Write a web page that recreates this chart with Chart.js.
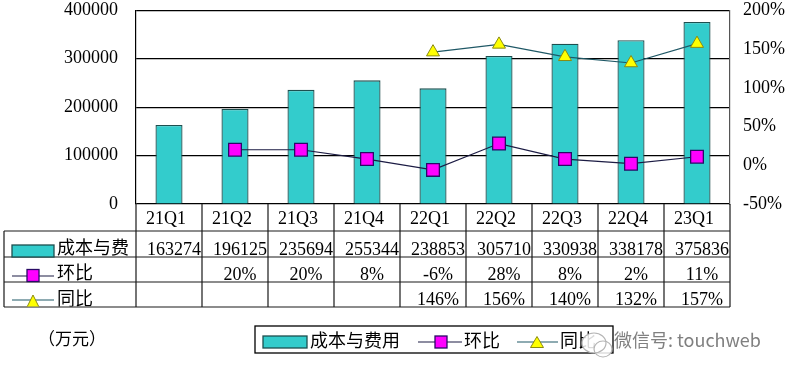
<!DOCTYPE html>
<html><head><meta charset="utf-8">
<script src="https://cdn.jsdelivr.net/npm/chart.js@4/dist/chart.umd.min.js"></script>
<style>html,body{margin:0;padding:0;background:#fff;} #wrap{width:800px;height:381px;position:relative;}</style>
</head><body><div id="wrap"><canvas id="c" width="800" height="381"></canvas></div>
<script>
// ---- data ----
const categories = ['21Q1','21Q2','21Q3','21Q4','22Q1','22Q2','22Q3','22Q4','23Q1'];
const costs = [163274,196125,235694,255344,238853,305710,330938,338178,375836];
const qoq = [null,20,20,8,-6,28,8,2,11];
const yoy = [null,null,null,null,146,156,140,132,157];
const seriesNames = ['成本与费用','环比','同比'];
const rowLabels = ['成本与费','环比','同比'];
const unitLabel = '（万元）';
const watermark = '微信号: touchweb';

// ---- style ----
const BAR_FILL = '#33CCCC', BAR_EDGE = '#1d4f4f';
const SQ_FILL = '#FF00FF', SQ_EDGE = '#2a0a66', QOQ_LINE = '#1c1c44';
const TRI_FILL = '#FFFF00', TRI_EDGE = '#8a8a10', YOY_LINE = '#1f5866';
const NUM_FONT = '18px "Liberation Serif"';
const CJK_FONT = '18px "Noto Sans CJK SC"';

function pct(v){ return v === null ? '' : v + '%'; }

function drawSquare(ctx, cx, cy, s){
  ctx.fillStyle = SQ_FILL; ctx.strokeStyle = SQ_EDGE; ctx.lineWidth = 1.3;
  ctx.fillRect(cx - s/2, cy - s/2, s, s); ctx.strokeRect(cx - s/2, cy - s/2, s, s);
}
function drawTri(ctx, cx, cy, w, h){
  ctx.beginPath(); ctx.moveTo(cx, cy - h/2); ctx.lineTo(cx + w/2, cy + h/2); ctx.lineTo(cx - w/2, cy + h/2); ctx.closePath();
  ctx.fillStyle = TRI_FILL; ctx.fill(); ctx.strokeStyle = TRI_EDGE; ctx.lineWidth = 1; ctx.stroke();
}
function drawSwatchRect(ctx, x, y, w, h){
  ctx.fillStyle = BAR_FILL; ctx.fillRect(x, y, w, h);
  ctx.strokeStyle = BAR_EDGE; ctx.lineWidth = 1.3; ctx.strokeRect(x, y, w, h);
}
function hLine(ctx, x1, x2, y, color){
  ctx.beginPath(); ctx.moveTo(x1, y); ctx.lineTo(x2, y); ctx.strokeStyle = color; ctx.lineWidth = 1.2; ctx.stroke();
}

const tablePlugin = {
  id: 'dataTable',
  afterDraw(chart){
    const ctx = chart.ctx, xs = chart.scales.x, area = chart.chartArea;
    const n = categories.length;
    const cw = (area.right - area.left) / n;
    const rows = [area.bottom, area.bottom + 27, area.bottom + 53, area.bottom + 78, area.bottom + 103];
    const tLeft = 4;
    ctx.save();
    ctx.strokeStyle = '#1a1a1a'; ctx.lineWidth = 1.2;
    ctx.beginPath();
    for (let r = 1; r < rows.length; r++){ ctx.moveTo(tLeft, rows[r]); ctx.lineTo(area.right, rows[r]); }
    ctx.moveTo(tLeft, rows[1]); ctx.lineTo(tLeft, rows[4]);
    for (let i = 0; i <= n; i++){
      const bx = (i < n ? xs.getPixelForValue(i) - cw/2 : xs.getPixelForValue(n-1) + cw/2);
      ctx.moveTo(bx, rows[0]); ctx.lineTo(bx, rows[4]);
    }
    ctx.stroke();

    // cell text
    ctx.fillStyle = '#000'; ctx.textAlign = 'center'; ctx.textBaseline = 'alphabetic';
    ctx.font = NUM_FONT;
    for (let i = 0; i < n; i++){
      const cx = xs.getPixelForValue(i);
      ctx.fillText(categories[i], cx - 3, rows[0] + 20);
      ctx.fillText(String(costs[i]), cx + 5, rows[1] + 24);
      ctx.fillText(pct(qoq[i]), cx + 5, rows[2] + 23);
      ctx.fillText(pct(yoy[i]), cx + 5, rows[3] + 23);
    }

    // row header swatches + labels
    drawSwatchRect(ctx, 12, rows[1] + 14, 42, 12);
    hLine(ctx, 12, 54, rows[2] + 19, QOQ_LINE);
    drawSquare(ctx, 33, rows[2] + 18.5, 12);
    hLine(ctx, 12, 54, rows[3] + 18, YOY_LINE);
    ctx.save();
    ctx.beginPath(); ctx.rect(tLeft, rows[3], 132, rows[4] - rows[3] - 0.6); ctx.clip();
    drawTri(ctx, 33, rows[3] + 19, 12, 12);
    ctx.restore();

    ctx.fillStyle = '#000'; ctx.textAlign = 'left'; ctx.font = CJK_FONT;
    ctx.fillText(rowLabels[0], 57, rows[1] + 23);
    ctx.fillText(rowLabels[1], 57, rows[2] + 22);
    ctx.save();
    ctx.beginPath(); ctx.rect(tLeft, rows[3], 132, rows[4] - rows[3] - 0.6); ctx.clip();
    ctx.fillStyle = '#000';
    ctx.fillText(rowLabels[2], 57, rows[3] + 23);
    ctx.restore();

    // unit label
    ctx.font = '17px "Noto Sans CJK SC"'; ctx.fillStyle = '#000';
    ctx.fillText(unitLabel, 38, 345);

    // legend box
    const lx = 255, ly = 326, lw = 358, lh = 27;
    ctx.strokeStyle = '#000'; ctx.lineWidth = 1.3; ctx.strokeRect(lx, ly, lw, lh);
    drawSwatchRect(ctx, 263, 336, 44, 12);
    ctx.fillStyle = '#000'; ctx.font = CJK_FONT; ctx.textAlign = 'left';
    ctx.fillText(seriesNames[0], 310, 347);
    hLine(ctx, 418, 462, 342, QOQ_LINE);
    drawSquare(ctx, 441, 342, 12);
    ctx.fillStyle = '#000'; ctx.font = CJK_FONT;
    ctx.fillText(seriesNames[1], 464, 347);
    hLine(ctx, 517, 558, 342, YOY_LINE);
    drawTri(ctx, 537, 342, 13, 11);
    ctx.fillStyle = '#000'; ctx.font = CJK_FONT;
    ctx.fillText(seriesNames[2], 560, 347);

    // watermark (WeChat style)
    ctx.globalAlpha = 0.85;
    ctx.fillStyle = '#fff';
    ctx.beginPath(); ctx.ellipse(594, 343, 12, 10, 0, 0, Math.PI*2); ctx.fill();
    ctx.beginPath(); ctx.ellipse(603, 349, 9, 8, 0, 0, Math.PI*2); ctx.fill();
    ctx.globalAlpha = 1;
    ctx.strokeStyle = '#b5b5b5'; ctx.lineWidth = 1.2;
    ctx.beginPath(); ctx.ellipse(594, 343, 12, 10, 0, 0, Math.PI*2); ctx.stroke();
    ctx.beginPath(); ctx.ellipse(603, 349, 9, 8, 0, 0, Math.PI*2); ctx.stroke();
    ctx.fillStyle = '#808080'; ctx.font = '18px "Noto Sans CJK SC"';
    ctx.fillText(watermark, 614, 347);
    ctx.restore();
  }
};

new Chart(document.getElementById('c'), {
  data: {
    labels: categories,
    datasets: [
      { type: 'line', label: seriesNames[2], data: yoy, yAxisID: 'y1', order: 1,
        borderColor: YOY_LINE, borderWidth: 1.2, tension: 0,
        pointStyle: 'triangle', pointRadius: 7.5, pointBackgroundColor: TRI_FILL,
        pointBorderColor: TRI_EDGE, pointBorderWidth: 1 },
      { type: 'line', label: seriesNames[1], data: qoq, yAxisID: 'y1', order: 2,
        borderColor: QOQ_LINE, borderWidth: 1.2, tension: 0,
        pointStyle: 'rect', pointRadius: 9, pointBackgroundColor: SQ_FILL,
        pointBorderColor: SQ_EDGE, pointBorderWidth: 1.3 },
      { type: 'bar', label: seriesNames[0], data: costs, yAxisID: 'y', order: 3,
        backgroundColor: BAR_FILL, borderColor: BAR_EDGE, borderWidth: 1.3,
        categoryPercentage: 1, barPercentage: 0.41 }
    ]
  },
  options: {
    responsive: false, animation: false, devicePixelRatio: 1,
    layout: { padding: { top: 10, left: 0, right: 0, bottom: 0 } },
    plugins: { legend: { display: false }, tooltip: { enabled: false } },
    scales: {
      x: { type: 'category', offset: true,
        grid: { display: false, drawTicks: false }, border: { display: false },
        ticks: { display: false },
        afterFit(s){ s.height = 177; s.paddingLeft = 0; s.paddingRight = 0; } },
      y: { position: 'left', min: 0, max: 400000,
        ticks: { stepSize: 100000, padding: 18, color: '#000', font: { family: 'Liberation Serif', size: 18 },
          callback: v => String(v) },
        grid: { color: '#000', lineWidth: 1.2, drawTicks: false },
        border: { display: true, color: '#000', width: 1.2 },
        afterFit(s){ s.width = 136; s.paddingTop = 0; s.paddingBottom = 0; } },
      y1: { position: 'right', min: -50, max: 200,
        ticks: { stepSize: 50, padding: 13, color: '#000', font: { family: 'Liberation Serif', size: 18 },
          callback: v => v + '%' },
        grid: { display: false, drawTicks: false },
        border: { display: true, color: '#555', width: 1.2 },
        afterFit(s){ s.width = 70; s.paddingTop = 0; s.paddingBottom = 0; } }
    }
  },
  plugins: [tablePlugin]
});
</script>
</body></html>
